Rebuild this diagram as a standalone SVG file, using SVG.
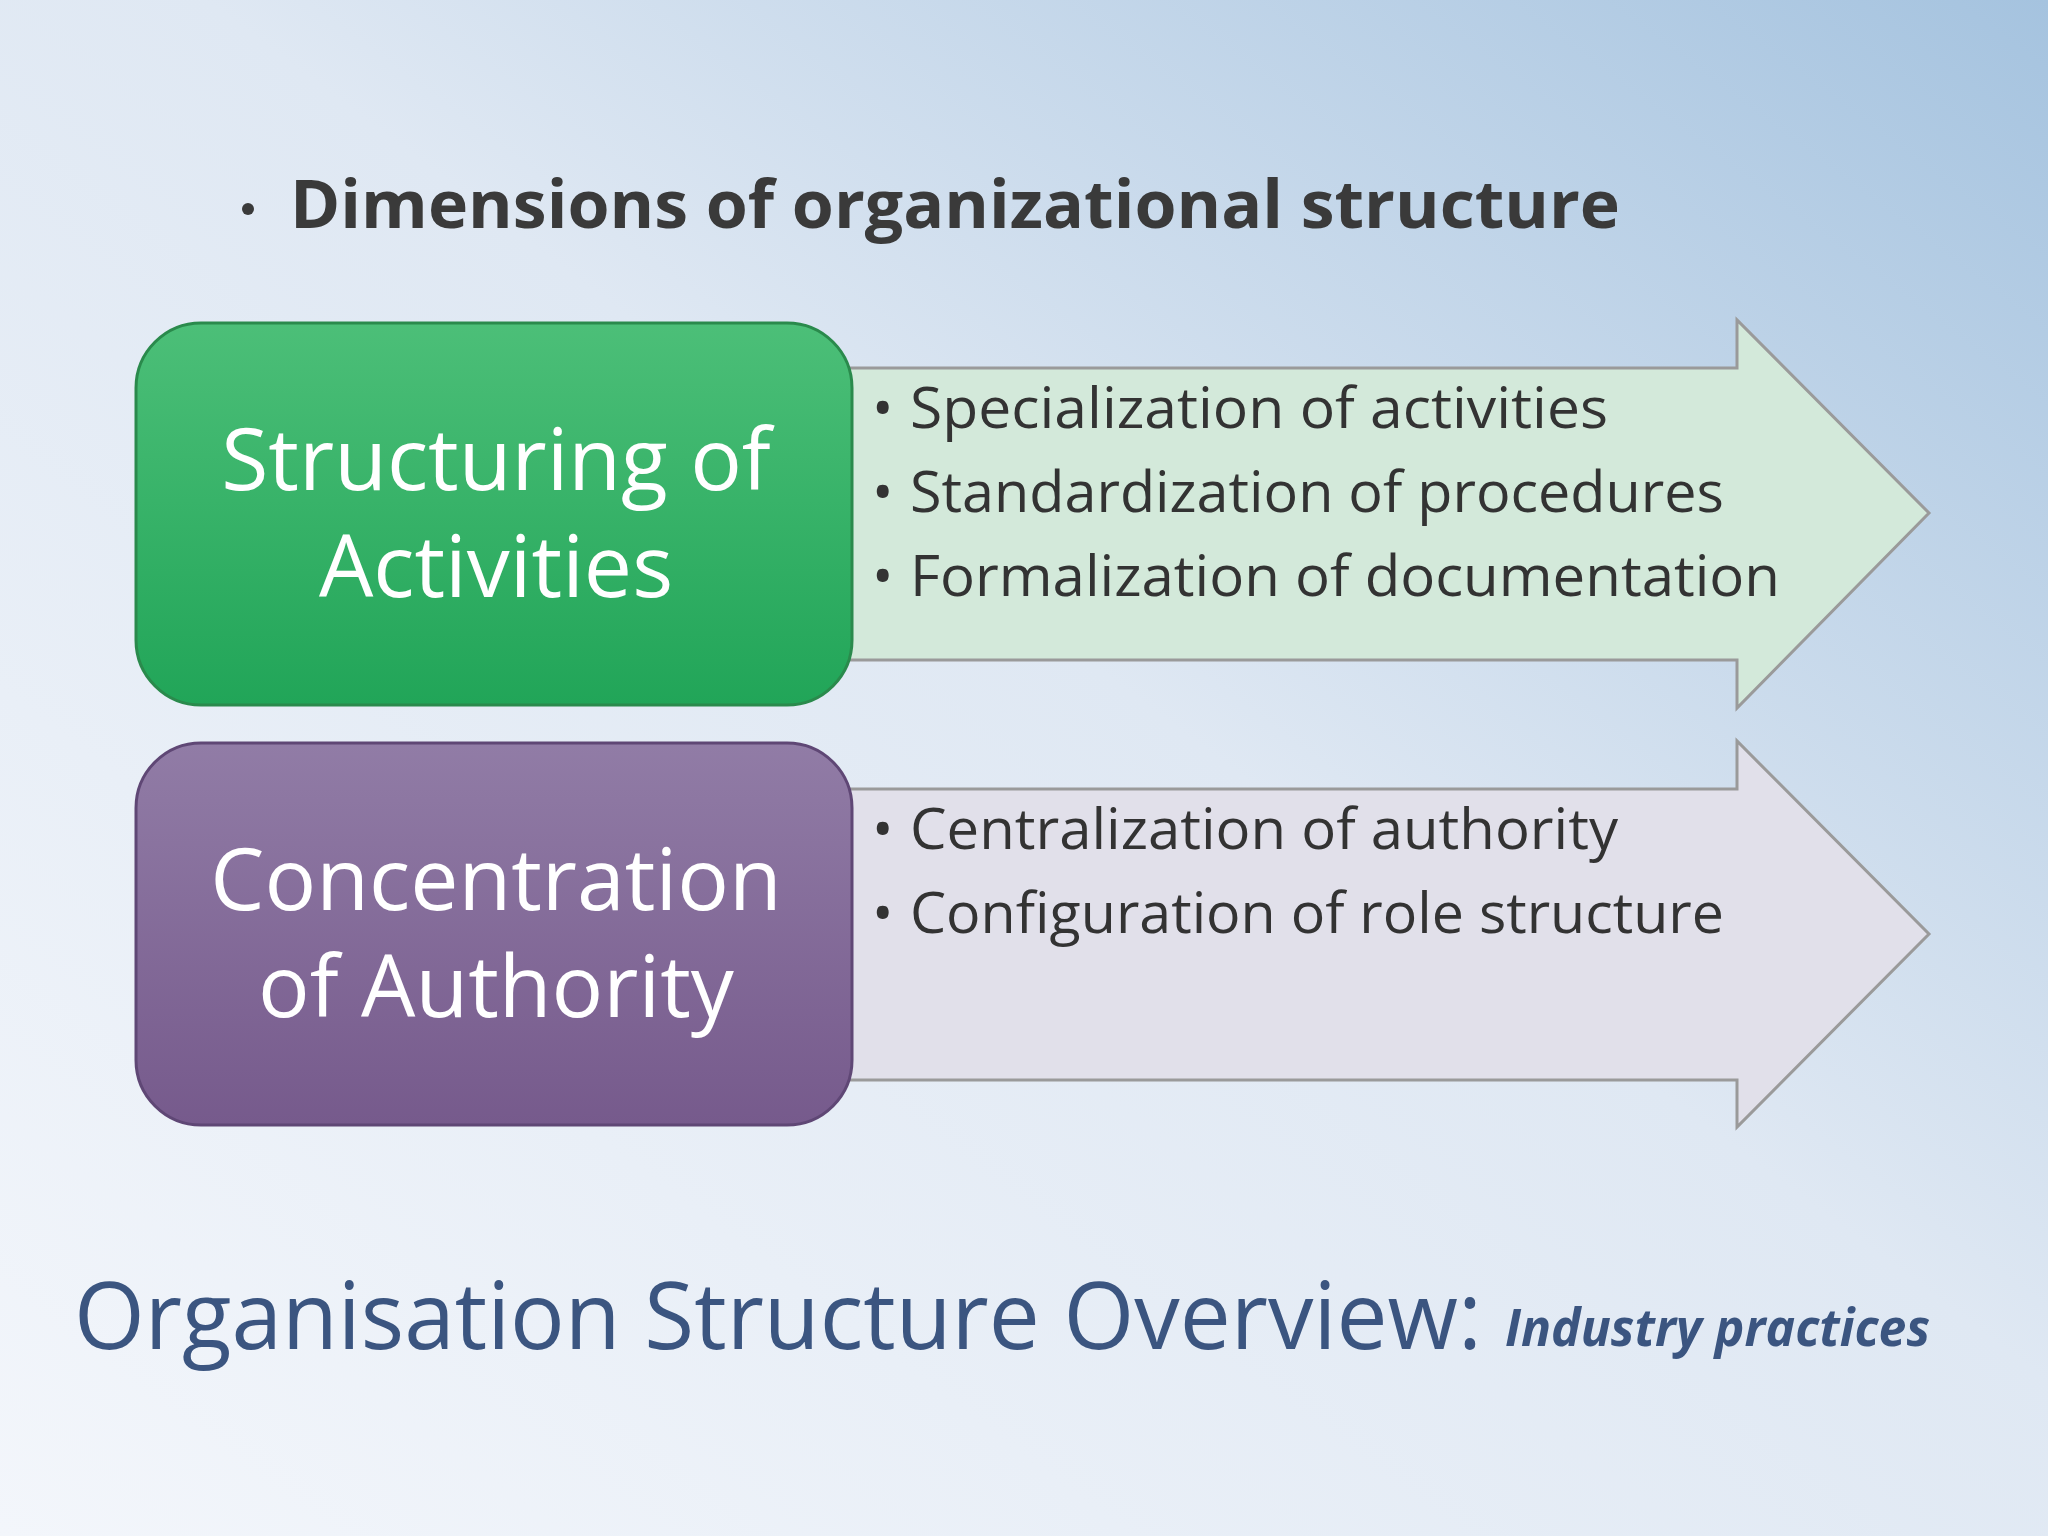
<svg xmlns="http://www.w3.org/2000/svg" width="2048" height="1536" viewBox="0 0 2048 1536">
<defs>
<linearGradient id="bg" x1="0" y1="1" x2="1" y2="0">
<stop offset="0" stop-color="#f3f6fb"/><stop offset="0.55" stop-color="#dfe8f3"/><stop offset="1" stop-color="#a5c3df"/>
</linearGradient>
<linearGradient id="gr" x1="0" y1="0" x2="0" y2="1">
<stop offset="0" stop-color="#4cbf78"/><stop offset="1" stop-color="#21a558"/>
</linearGradient>
<linearGradient id="pu" x1="0" y1="0" x2="0" y2="1">
<stop offset="0" stop-color="#917ca6"/><stop offset="1" stop-color="#765a8c"/>
</linearGradient>
<style>
.box{stroke-width:3}
.bt{font-family:"Open Sans",sans-serif;font-size:86px;fill:#fff;text-anchor:middle}
.li{font-family:"Open Sans",sans-serif;font-size:57px;fill:#333}
.ar{stroke:#9a9a9a;stroke-width:3}
</style>
</defs>
<rect width="2048" height="1536" fill="url(#bg)"/>
<g id="title">
<circle cx="248" cy="209" r="6" fill="#3a3a3a"/>
<text x="290" y="228" font-family="Open Sans, sans-serif" font-weight="bold" font-size="66" fill="#3a3a3a" textLength="1330" lengthAdjust="spacingAndGlyphs">Dimensions of organizational structure</text>
</g>
<g id="arrow1">
<path class="ar" d="M836 368 H1737 V320 L1929 513 L1737 708 V660 H836 Z" fill="#d3e9da"/>
<text class="li" x="872" y="428">•</text><text class="li" x="910" y="428" textLength="698" lengthAdjust="spacingAndGlyphs">Specialization of activities</text>
<text class="li" x="872" y="512">•</text><text class="li" x="910" y="512" textLength="814" lengthAdjust="spacingAndGlyphs">Standardization of procedures</text>
<text class="li" x="872" y="596">•</text><text class="li" x="910" y="596" textLength="870" lengthAdjust="spacingAndGlyphs">Formalization of documentation</text>
</g>
<g id="box1">
<rect class="box" x="136" y="323" width="716" height="382" rx="65" fill="url(#gr)" stroke="#2a8a4c"/>
<text class="bt" x="496" y="490">Structuring of</text>
<text class="bt" x="496" y="597">Activities</text>
</g>
<g id="arrow2">
<path class="ar" d="M836 789 H1737 V741 L1929 934 L1737 1127 V1080 H836 Z" fill="#e1e0ea"/>
<text class="li" x="872" y="849">•</text><text class="li" x="910" y="849" textLength="708" lengthAdjust="spacingAndGlyphs">Centralization of authority</text>
<text class="li" x="872" y="933">•</text><text class="li" x="910" y="933" textLength="814" lengthAdjust="spacingAndGlyphs">Configuration of role structure</text>
</g>
<g id="box2">
<rect class="box" x="136" y="743" width="716" height="382" rx="65" fill="url(#pu)" stroke="#5f4775"/>
<text class="bt" x="496" y="910">Concentration</text>
<text class="bt" x="496" y="1017">of Authority</text>
</g>
<g id="footer">
<text x="74" y="1349" font-family="Open Sans, sans-serif" font-size="94" fill="#3b5580" textLength="1408" lengthAdjust="spacingAndGlyphs">Organisation Structure Overview:</text>
<text x="1505" y="1346" font-family="Open Sans, sans-serif" font-weight="bold" font-style="italic" font-size="52" fill="#3b5580" textLength="425" lengthAdjust="spacingAndGlyphs">Industry practices</text>
</g>
</svg>
